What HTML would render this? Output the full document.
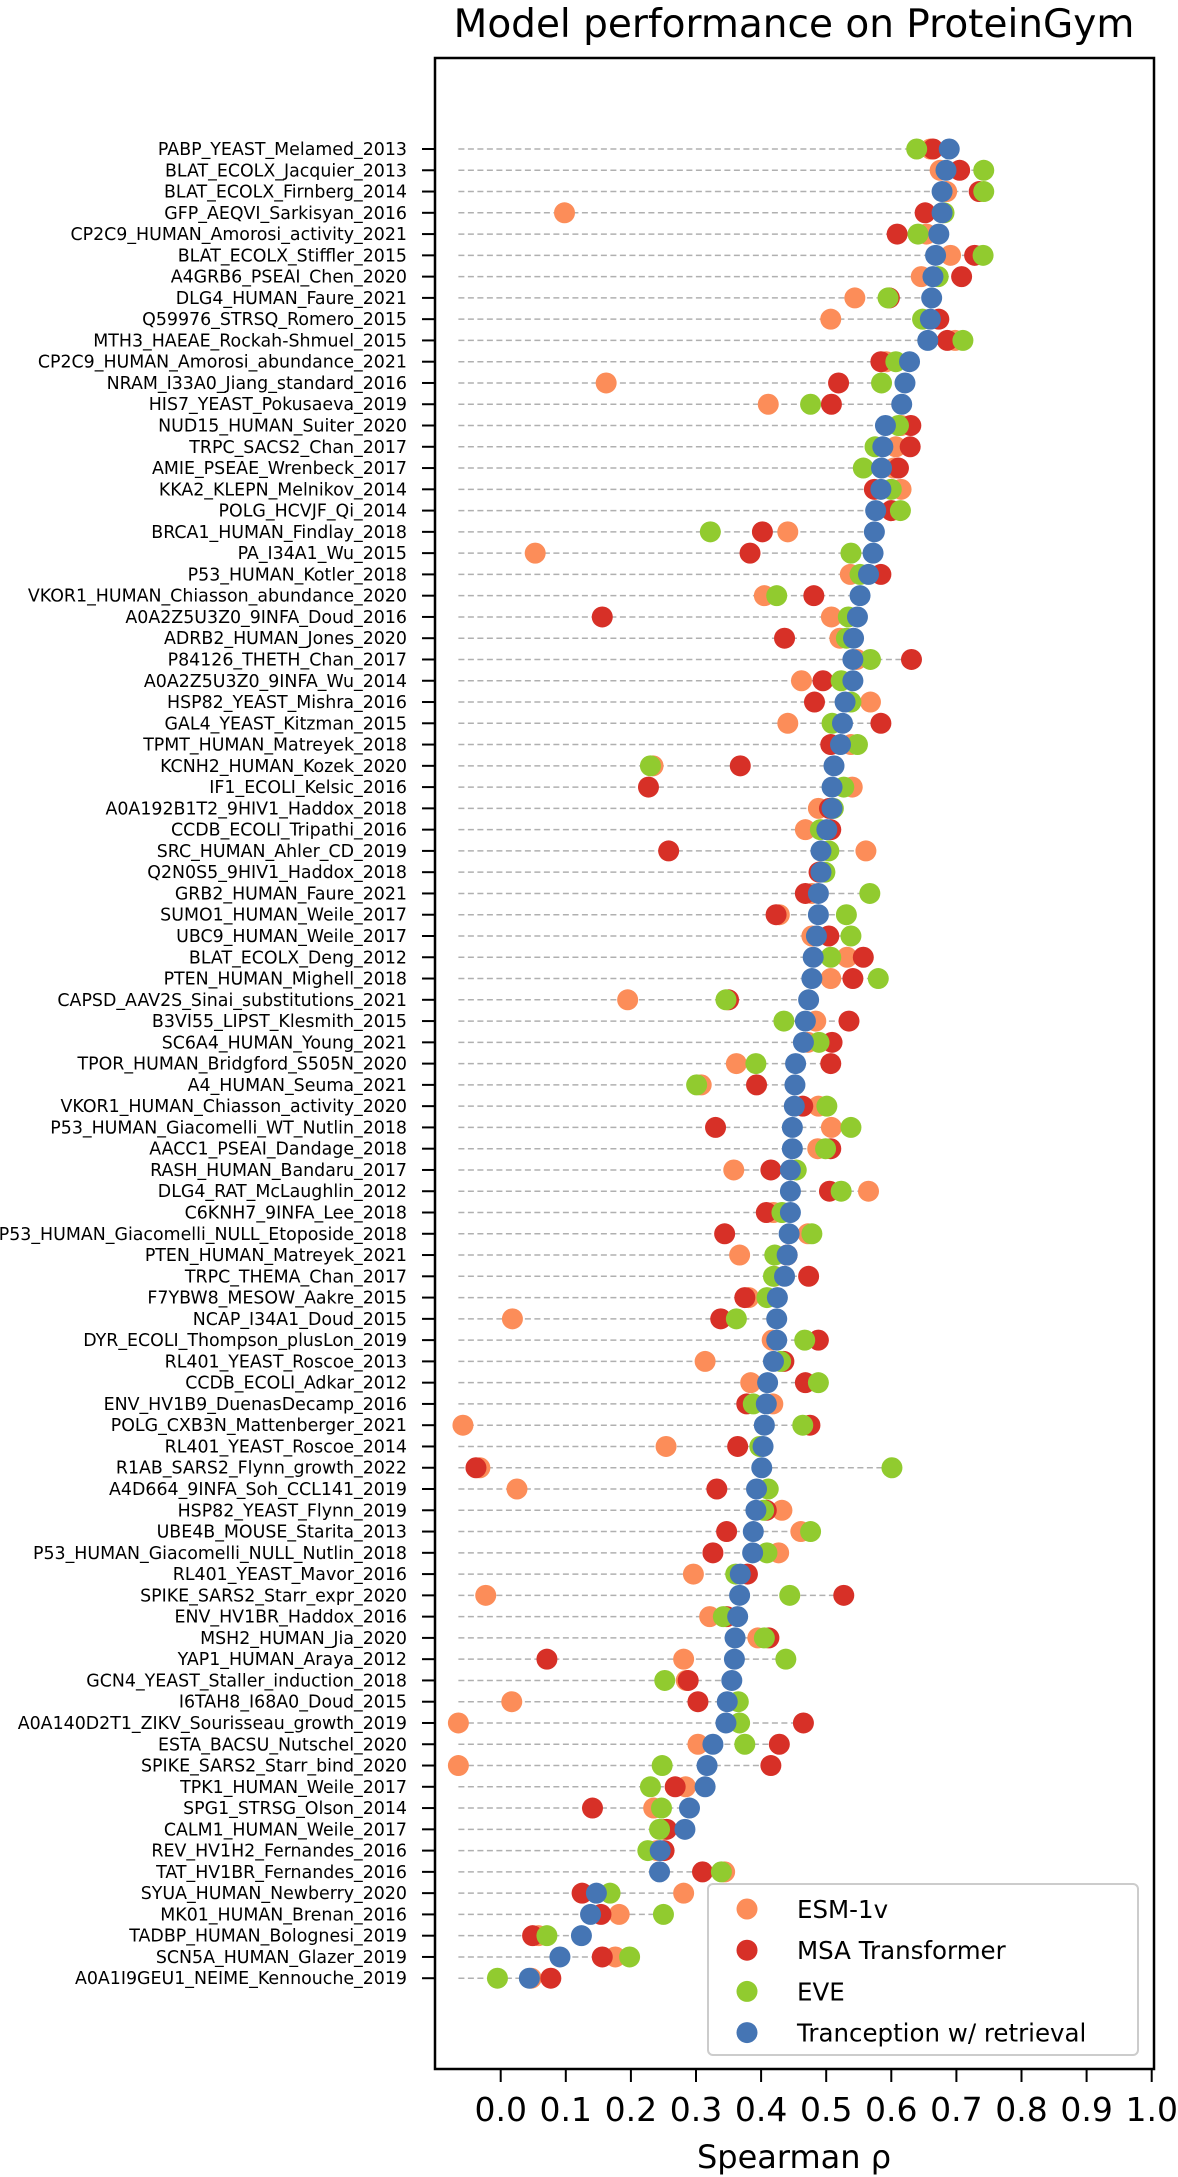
<!DOCTYPE html>
<html><head><meta charset="utf-8"><style>
html,body{margin:0;padding:0;background:#fff;}
svg{display:block;font-family:"DejaVu Sans","Liberation Sans",sans-serif;}
</style></head><body>
<svg id="chart" width="1178" height="2177" viewBox="0 0 1178 2177" xmlns="http://www.w3.org/2000/svg">
<text x="794" y="37" text-anchor="middle" font-size="39">Model performance on ProteinGym</text>
<g id="plot"></g>
</svg>
<script>
const assays = ["PABP_YEAST_Melamed_2013","BLAT_ECOLX_Jacquier_2013","BLAT_ECOLX_Firnberg_2014","GFP_AEQVI_Sarkisyan_2016","CP2C9_HUMAN_Amorosi_activity_2021","BLAT_ECOLX_Stiffler_2015","A4GRB6_PSEAI_Chen_2020","DLG4_HUMAN_Faure_2021","Q59976_STRSQ_Romero_2015","MTH3_HAEAE_Rockah-Shmuel_2015","CP2C9_HUMAN_Amorosi_abundance_2021","NRAM_I33A0_Jiang_standard_2016","HIS7_YEAST_Pokusaeva_2019","NUD15_HUMAN_Suiter_2020","TRPC_SACS2_Chan_2017","AMIE_PSEAE_Wrenbeck_2017","KKA2_KLEPN_Melnikov_2014","POLG_HCVJF_Qi_2014","BRCA1_HUMAN_Findlay_2018","PA_I34A1_Wu_2015","P53_HUMAN_Kotler_2018","VKOR1_HUMAN_Chiasson_abundance_2020","A0A2Z5U3Z0_9INFA_Doud_2016","ADRB2_HUMAN_Jones_2020","P84126_THETH_Chan_2017","A0A2Z5U3Z0_9INFA_Wu_2014","HSP82_YEAST_Mishra_2016","GAL4_YEAST_Kitzman_2015","TPMT_HUMAN_Matreyek_2018","KCNH2_HUMAN_Kozek_2020","IF1_ECOLI_Kelsic_2016","A0A192B1T2_9HIV1_Haddox_2018","CCDB_ECOLI_Tripathi_2016","SRC_HUMAN_Ahler_CD_2019","Q2N0S5_9HIV1_Haddox_2018","GRB2_HUMAN_Faure_2021","SUMO1_HUMAN_Weile_2017","UBC9_HUMAN_Weile_2017","BLAT_ECOLX_Deng_2012","PTEN_HUMAN_Mighell_2018","CAPSD_AAV2S_Sinai_substitutions_2021","B3VI55_LIPST_Klesmith_2015","SC6A4_HUMAN_Young_2021","TPOR_HUMAN_Bridgford_S505N_2020","A4_HUMAN_Seuma_2021","VKOR1_HUMAN_Chiasson_activity_2020","P53_HUMAN_Giacomelli_WT_Nutlin_2018","AACC1_PSEAI_Dandage_2018","RASH_HUMAN_Bandaru_2017","DLG4_RAT_McLaughlin_2012","C6KNH7_9INFA_Lee_2018","P53_HUMAN_Giacomelli_NULL_Etoposide_2018","PTEN_HUMAN_Matreyek_2021","TRPC_THEMA_Chan_2017","F7YBW8_MESOW_Aakre_2015","NCAP_I34A1_Doud_2015","DYR_ECOLI_Thompson_plusLon_2019","RL401_YEAST_Roscoe_2013","CCDB_ECOLI_Adkar_2012","ENV_HV1B9_DuenasDecamp_2016","POLG_CXB3N_Mattenberger_2021","RL401_YEAST_Roscoe_2014","R1AB_SARS2_Flynn_growth_2022","A4D664_9INFA_Soh_CCL141_2019","HSP82_YEAST_Flynn_2019","UBE4B_MOUSE_Starita_2013","P53_HUMAN_Giacomelli_NULL_Nutlin_2018","RL401_YEAST_Mavor_2016","SPIKE_SARS2_Starr_expr_2020","ENV_HV1BR_Haddox_2016","MSH2_HUMAN_Jia_2020","YAP1_HUMAN_Araya_2012","GCN4_YEAST_Staller_induction_2018","I6TAH8_I68A0_Doud_2015","A0A140D2T1_ZIKV_Sourisseau_growth_2019","ESTA_BACSU_Nutschel_2020","SPIKE_SARS2_Starr_bind_2020","TPK1_HUMAN_Weile_2017","SPG1_STRSG_Olson_2014","CALM1_HUMAN_Weile_2017","REV_HV1H2_Fernandes_2016","TAT_HV1BR_Fernandes_2016","SYUA_HUMAN_Newberry_2020","MK01_HUMAN_Brenan_2016","TADBP_HUMAN_Bolognesi_2019","SCN5A_HUMAN_Glazer_2019","A0A1I9GEU1_NEIME_Kennouche_2019"];
const esm1v = [0.66,0.675,0.685,0.098,0.654,0.691,0.646,0.544,0.507,0.698,0.592,0.162,0.411,0.615,0.607,0.604,0.615,0.6,0.441,0.053,0.537,0.405,0.508,0.521,0.547,0.462,0.568,0.441,0.538,0.234,0.54,0.488,0.468,0.561,0.49,0.478,0.428,0.478,0.532,0.507,0.195,0.484,0.472,0.362,0.308,0.488,0.508,0.487,0.358,0.565,0.419,0.472,0.367,0.42,0.381,0.018,0.417,0.314,0.384,0.418,-0.058,0.254,-0.032,0.025,0.432,0.461,0.427,0.296,-0.023,0.321,0.395,0.281,0.285,0.017,-0.065,0.303,-0.065,0.284,0.235,0.25,0.24,0.344,0.281,0.182,0.058,0.176,0.047];
const msaTransformer = [0.664,0.705,0.735,0.652,0.609,0.728,0.708,0.597,0.673,0.686,0.584,0.519,0.508,0.63,0.629,0.611,0.574,0.6,0.402,0.383,0.584,0.481,0.156,0.436,0.631,0.495,0.482,0.584,0.507,0.368,0.227,0.505,0.507,0.258,0.489,0.468,0.423,0.504,0.557,0.541,0.35,0.535,0.509,0.507,0.393,0.464,0.33,0.507,0.415,0.505,0.408,0.344,0.44,0.473,0.375,0.338,0.488,0.435,0.468,0.378,0.475,0.364,-0.038,0.332,0.408,0.347,0.326,0.379,0.527,0.347,0.412,0.071,0.288,0.303,0.465,0.428,0.415,0.268,0.141,0.255,0.251,0.31,0.125,0.154,0.049,0.156,0.077];
const eve = [0.639,0.742,0.742,0.681,0.641,0.741,0.672,0.595,0.648,0.71,0.607,0.585,0.476,0.611,0.575,0.557,0.6,0.614,0.322,0.538,0.552,0.424,0.534,0.531,0.568,0.523,0.538,0.509,0.548,0.23,0.527,0.511,0.491,0.504,0.498,0.567,0.531,0.538,0.507,0.58,0.346,0.435,0.489,0.392,0.301,0.501,0.538,0.499,0.454,0.523,0.432,0.478,0.421,0.419,0.409,0.362,0.467,0.43,0.488,0.388,0.464,0.398,0.601,0.411,0.404,0.476,0.409,0.361,0.444,0.342,0.405,0.438,0.252,0.365,0.367,0.375,0.248,0.23,0.247,0.244,0.226,0.339,0.168,0.25,0.071,0.198,-0.005];
const tranception = [0.689,0.684,0.678,0.678,0.673,0.668,0.664,0.662,0.66,0.656,0.628,0.621,0.616,0.591,0.587,0.585,0.584,0.576,0.574,0.572,0.565,0.552,0.548,0.542,0.541,0.541,0.529,0.525,0.522,0.512,0.509,0.509,0.501,0.492,0.492,0.488,0.488,0.485,0.48,0.478,0.473,0.468,0.465,0.453,0.452,0.451,0.448,0.448,0.445,0.445,0.445,0.443,0.44,0.436,0.425,0.424,0.424,0.419,0.41,0.408,0.405,0.403,0.401,0.393,0.392,0.388,0.387,0.368,0.367,0.364,0.36,0.359,0.355,0.348,0.346,0.326,0.317,0.314,0.29,0.283,0.245,0.244,0.147,0.138,0.124,0.091,0.044];
const xTicks = [0,0.1,0.2,0.3,0.4,0.5,0.6,0.7,0.8,0.9,1.0];
const xTickLabels = ["0.0","0.1","0.2","0.3","0.4","0.5","0.6","0.7","0.8","0.9","1.0"];
const seriesNames = ["ESM-1v","MSA Transformer","EVE","Tranception w/ retrieval"];

const NS="http://www.w3.org/2000/svg";
const g=document.getElementById('plot');
const X0=500.7, XS=651, Y0=149, YS=21.27;
const L=435, R=1154, T=58, B=2069;
const colors=["#fc8d59","#d73027","#91cb2f","#4575b4"];
const series=[esm1v,msaTransformer,eve,tranception];
const keys=["esm1v","msa-transformer","eve","tranception"];
const xs=v=>X0+v*XS;
const ys=i=>Y0+i*YS;
function mk(tag,attrs){const e=document.createElementNS(NS,tag);for(const k in attrs)e.setAttribute(k,attrs[k]);g.appendChild(e);return e;}
const allVals=[].concat(...series);
const gmin=Math.min(...allVals);
assays.forEach((name,i)=>{
  const y=ys(i);
  const mx=Math.max(esm1v[i],msaTransformer[i],eve[i],tranception[i]);
  const ln=mk('line',{x1:xs(gmin),x2:xs(mx),y1:y,y2:y,stroke:"#b0b0b0","stroke-width":1.5,"stroke-dasharray":"6,3.5"});
  
  
  const tk=mk('line',{x1:L-13,x2:L,y1:y,y2:y,stroke:"#000","stroke-width":2});
  
  
  const t=mk('text',{x:407,y:y+6,"text-anchor":"end","font-size":"17.4"});
  t.textContent=name;
  
  
});
series.forEach((arr,s)=>{
  arr.forEach((v,i)=>{
    const c=mk('ellipse',{cx:xs(v),cy:ys(i),rx:10.5,ry:10.5,fill:colors[s]});
    
    
  });
});
const fr=mk('rect',{x:L,y:T,width:R-L,height:B-T,fill:"none",stroke:"#000","stroke-width":2.5});


xTicks.forEach((v,k)=>{
  const tk=mk('line',{x1:xs(v),x2:xs(v),y1:B,y2:B+13,stroke:"#000","stroke-width":2});
  
  
  const t=mk('text',{x:xs(v),y:2121,"text-anchor":"middle","font-size":"33"});
  t.textContent=xTickLabels[k];
  
  
});
const xl=mk('text',{x:794,y:2168,"text-anchor":"middle","font-size":"32"});
xl.textContent="Spearman ρ";


const lg=mk('rect',{x:708,y:1884,width:430,height:171,rx:5,fill:"#fff","fill-opacity":0.85,stroke:"#cccccc","stroke-width":2});


seriesNames.forEach((n,s)=>{
  const y=1909+s*41.2;
  const c=mk('ellipse',{cx:747,cy:y,rx:10.5,ry:10.5,fill:colors[s]});
  
  
  const t=mk('text',{x:797,y:y+9,"font-size":"24.5"});
  t.textContent=n;
  
  
});
</script>
</body></html>
